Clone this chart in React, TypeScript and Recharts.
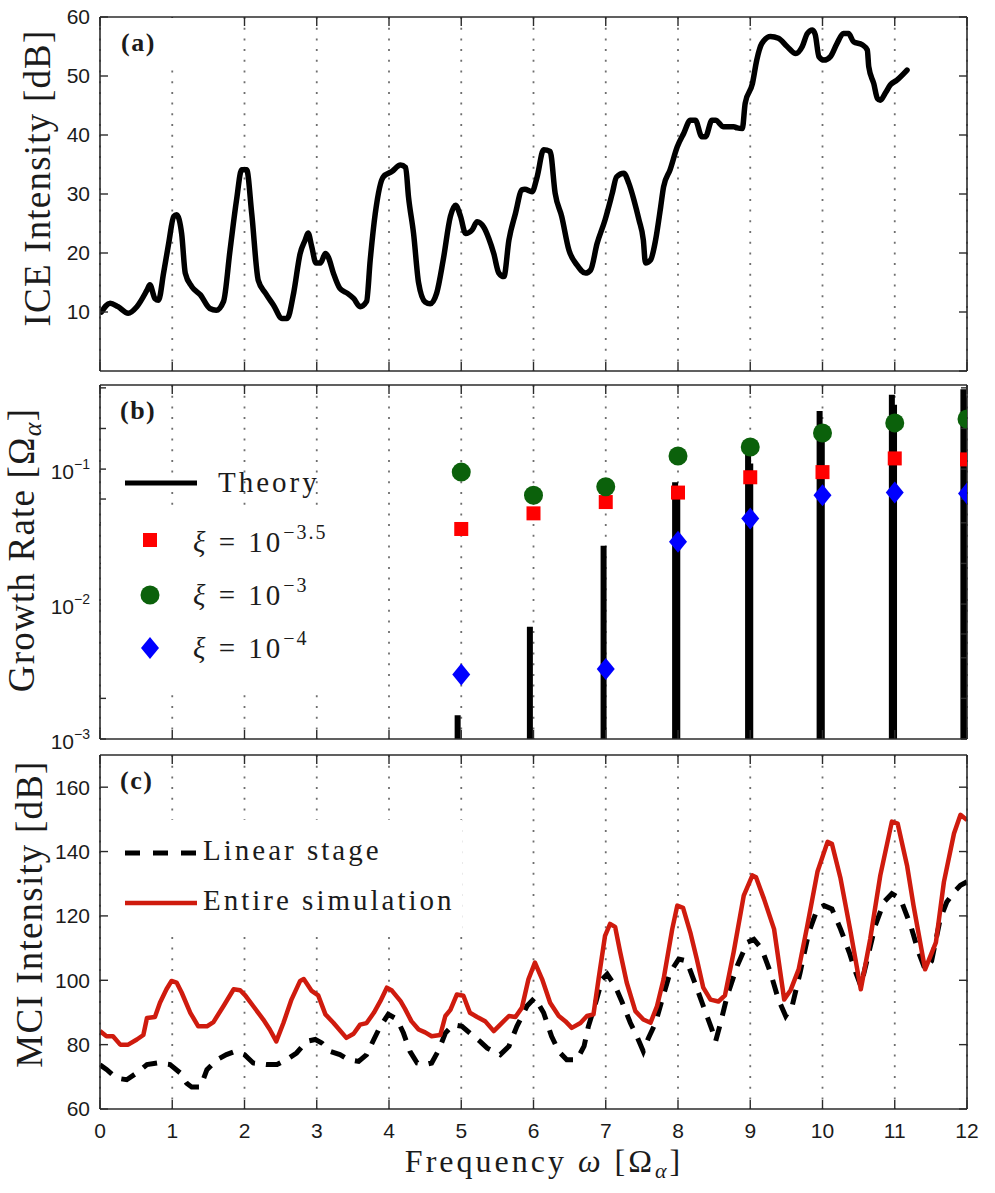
import React from 'react';
import { ComposedChart, Line, Scatter, XAxis, YAxis, CartesianGrid } from 'recharts';

// ---------- shared look ----------
const SERIF = '"Liberation Serif", "Times New Roman", serif';
const SANS = '"Liberation Sans", Arial, Helvetica, sans-serif';
const INK = '#1b1b1b';
const FRAME = '#2b2b2b';
const RED = '#cf1b0e';

// ---------- axes ----------
const freqTicks = [0, 1, 2, 3, 4, 5, 6, 7, 8, 9, 10, 11, 12];
const iceTicks = [0, 10, 20, 30, 40, 50, 60];
const rateTicks = [
  0.001, 0.002, 0.003, 0.004, 0.005, 0.006, 0.007, 0.008, 0.009,
  0.01, 0.02, 0.03, 0.04, 0.05, 0.06, 0.07, 0.08, 0.09,
  0.1, 0.2, 0.3, 0.4,
];
const mciTicks = [60, 80, 100, 120, 140, 160];

// ---------- (a) ICE spectrum ----------
const iceFreq = [
  0.02, 0.14, 0.25, 0.39, 0.51, 0.65, 0.69, 0.76, 0.81, 0.88, 0.95, 1.02, 1.06, 1.13, 1.18, 1.27,
  1.39, 1.52, 1.61, 1.71, 1.8, 1.89, 1.96, 2.03, 2.1, 2.19, 2.29, 2.4, 2.52, 2.59, 2.68, 2.77,
  2.84, 2.88, 2.93, 2.99, 3.05, 3.12, 3.16, 3.23, 3.32, 3.42, 3.51, 3.6, 3.69, 3.74, 3.81, 3.92,
  4.04, 4.16, 4.23, 4.27, 4.34, 4.41, 4.5, 4.57, 4.66, 4.75, 4.85, 4.92, 4.99, 5.06, 5.15, 5.22,
  5.31, 5.38, 5.45, 5.52, 5.59, 5.66, 5.75, 5.84, 5.88, 5.98, 6.05, 6.14, 6.23, 6.3, 6.39, 6.49,
  6.6, 6.72, 6.79, 6.88, 6.99, 7.09, 7.15, 7.25, 7.32, 7.39, 7.46, 7.52, 7.55, 7.62, 7.69, 7.76,
  7.8, 7.89, 7.99, 8.08, 8.17, 8.24, 8.33, 8.38, 8.47, 8.52, 8.63, 8.77, 8.82, 8.89, 8.93, 9.03,
  9.09, 9.16, 9.28, 9.39, 9.51, 9.63, 9.72, 9.79, 9.86, 9.9, 9.95, 10.02, 10.11, 10.2, 10.29, 10.36,
  10.43, 10.55, 10.62, 10.64, 10.71, 10.76, 10.8, 10.87, 10.94, 11.03, 11.17,
];
const iceDb = [
  10.0, 11.5, 10.9, 9.8, 10.9, 13.7, 14.6, 12.3, 12.0, 16.6, 21.6, 26.2, 26.5, 23.3, 16.6, 14.3,
  12.9, 10.6, 10.3, 11.8, 20.5, 29.0, 34.1, 34.1, 26.7, 15.4, 13.2, 11.2, 8.9, 8.9, 13.2, 19.9,
  22.2, 23.4, 21.1, 18.3, 18.3, 19.9, 19.3, 16.6, 14.0, 13.2, 12.3, 10.9, 11.8, 18.8, 26.7, 32.9,
  33.8, 34.9, 34.5, 29.5, 23.3, 14.9, 11.7, 11.4, 13.2, 18.8, 26.2, 28.1, 26.2, 23.3, 23.9, 25.3,
  24.4, 22.5, 19.9, 16.6, 16.0, 22.2, 26.7, 30.7, 30.8, 30.4, 32.9, 37.5, 37.2, 30.1, 26.2, 20.5,
  18.0, 16.6, 17.1, 21.6, 25.6, 30.1, 32.9, 33.5, 31.8, 29.0, 25.6, 22.2, 18.3, 18.8, 22.2, 27.8,
  31.2, 34.1, 38.0, 40.3, 42.5, 42.5, 39.7, 39.7, 42.5, 42.5, 41.4, 41.4, 41.2, 41.1, 45.4, 48.7,
  52.7, 55.5, 56.7, 56.4, 55.0, 53.8, 55.0, 57.2, 57.8, 57.0, 53.3, 52.7, 53.3, 55.5, 57.2, 57.2,
  55.8, 55.3, 54.4, 51.6, 48.7, 46.2, 45.9, 47.1, 48.5, 49.3, 51.0,
];

// ---------- (b) growth rates ----------
const theoryFreq = [4.95, 5.95, 6.97, 7.96, 7.99, 8.97, 9.0, 9.96, 9.99, 10.96, 10.99, 11.95, 11.98];
const theoryPeak = [0.0015, 0.0068, 0.027, 0.08, 0.07, 0.13, 0.11, 0.27, 0.2, 0.355, 0.3, 0.39, 0.34];
const theoryFloor = 0.001;

const harmonics = [5, 6, 7, 8, 9, 10, 11, 12];
const rateXi35 = [0.036, 0.047, 0.057, 0.067, 0.087, 0.095, 0.12, 0.118];
const rateXi3 = [0.095, 0.064, 0.074, 0.125, 0.146, 0.185, 0.22, 0.235];
const rateXi4 = [0.003, null, 0.0033, 0.029, 0.043, 0.064, 0.067, 0.066];

// ---------- (c) MCI spectra ----------
const entireFreq = [
  0, 0.09, 0.18, 0.28, 0.39, 0.51, 0.6, 0.65, 0.76, 0.83, 0.92, 0.99, 1.06, 1.13, 1.25, 1.36,
  1.48, 1.57, 1.71, 1.85, 1.94, 2.01, 2.12, 2.26, 2.35, 2.44, 2.54, 2.65, 2.77, 2.82, 2.93, 3.02,
  3.12, 3.23, 3.41, 3.51, 3.6, 3.69, 3.79, 3.88, 3.97, 4.04, 4.16, 4.22, 4.31, 4.41, 4.5, 4.59,
  4.71, 4.78, 4.85, 4.94, 5.03, 5.12, 5.22, 5.33, 5.45, 5.54, 5.66, 5.75, 5.84, 5.93, 6.02, 6.12,
  6.23, 6.35, 6.44, 6.53, 6.65, 6.74, 6.83, 6.9, 6.99, 7.06, 7.13, 7.2, 7.29, 7.41, 7.52, 7.62,
  7.71, 7.8, 7.92, 7.99, 8.07, 8.17, 8.26, 8.35, 8.45, 8.56, 8.65, 8.77, 8.91, 9.03, 9.08, 9.19,
  9.33, 9.47, 9.56, 9.67, 9.79, 9.93, 10.07, 10.13, 10.25, 10.39, 10.53, 10.66, 10.8, 10.96, 11.04, 11.17,
  11.26, 11.42, 11.57, 11.68, 11.82, 11.91, 12.0,
];
const entireDb = [
  84.2, 82.6, 82.6, 80.0, 80.0, 81.6, 83.0, 88.3, 88.6, 93.0, 97.2, 99.8, 99.3, 96.2, 89.9, 85.7,
  85.7, 87.0, 92.0, 97.2, 96.9, 95.3, 92.0, 87.8, 84.7, 81.0, 86.8, 94.0, 99.8, 100.4, 96.7, 95.3,
  89.4, 86.8, 82.1, 83.4, 86.2, 86.7, 89.9, 93.5, 97.7, 96.8, 93.5, 91.2, 87.3, 84.7, 83.8, 82.6,
  83.0, 88.9, 90.8, 95.6, 95.2, 89.9, 88.6, 87.3, 84.2, 86.2, 88.9, 88.6, 91.5, 100.3, 105.5, 100.3,
  93.0, 88.9, 87.3, 85.2, 86.7, 88.9, 89.4, 100.3, 113.8, 117.5, 116.6, 108.7, 99.3, 90.4, 87.8, 86.8,
  92.0, 100.3, 115.9, 123.2, 122.5, 114.9, 106.6, 97.7, 94.0, 93.4, 95.3, 108.7, 126.3, 132.6, 132.0, 125.3,
  115.9, 94.0, 97.0, 103.4, 117.0, 133.7, 143.0, 142.4, 131.6, 114.9, 97.2, 112.8, 132.6, 149.3, 148.7, 135.7,
  123.2, 103.4, 111.8, 130.5, 145.6, 151.4, 149.8,
];
const linearFreq = [
  0, 0.09, 0.23, 0.37, 0.51, 0.65, 0.79, 0.97, 1.11, 1.2, 1.27, 1.39, 1.48, 1.62, 1.75, 1.87,
  2.0, 2.12, 2.31, 2.45, 2.58, 2.72, 2.86, 2.98, 3.07, 3.19, 3.32, 3.44, 3.58, 3.69, 3.79, 3.88,
  3.99, 4.11, 4.2, 4.29, 4.39, 4.5, 4.59, 4.69, 4.78, 4.89, 5.01, 5.12, 5.26, 5.36, 5.54, 5.66,
  5.77, 5.91, 6.02, 6.14, 6.25, 6.35, 6.46, 6.6, 6.7, 6.76, 6.86, 6.95, 7.02, 7.13, 7.23, 7.34,
  7.43, 7.52, 7.59, 7.69, 7.78, 7.89, 8.01, 8.12, 8.24, 8.35, 8.47, 8.52, 8.59, 8.68, 8.82, 8.96,
  9.05, 9.16, 9.28, 9.39, 9.49, 9.58, 9.69, 9.81, 9.93, 10.02, 10.13, 10.25, 10.37, 10.46, 10.53, 10.62,
  10.73, 10.85, 10.96, 11.08, 11.22, 11.33, 11.42, 11.51, 11.63, 11.72, 11.82, 11.91, 12.0,
];
const linearDb = [
  73.7, 72.3, 69.6, 69.1, 71.2, 73.8, 74.3, 73.8, 71.2, 68.0, 66.8, 66.8, 72.2, 75.3, 76.9, 77.9,
  76.9, 74.3, 73.8, 73.8, 75.3, 77.4, 81.0, 81.6, 80.5, 77.9, 76.9, 75.3, 74.8, 76.9, 81.6, 85.7,
  89.4, 87.9, 83.6, 77.9, 74.3, 73.8, 74.3, 78.4, 83.6, 86.2, 85.7, 83.6, 81.0, 78.9, 76.9, 79.5,
  85.7, 92.0, 94.6, 89.9, 82.6, 77.9, 75.3, 75.3, 79.5, 85.7, 93.0, 100.3, 101.9, 98.2, 93.0, 86.8,
  82.6, 77.9, 82.0, 86.8, 94.0, 102.4, 106.6, 106.0, 98.8, 92.0, 84.7, 81.0, 86.8, 95.1, 104.5, 111.8,
  112.7, 109.7, 102.4, 94.0, 88.9, 92.0, 102.4, 114.9, 122.2, 123.2, 122.2, 115.9, 108.7, 102.4, 98.2, 106.6,
  117.0, 124.3, 126.9, 125.3, 117.0, 108.7, 103.4, 106.0, 119.1, 124.3, 127.4, 129.5, 130.6,
];

// ---------- tables for the library ----------
const zip = (xs: number[], ys: (number | null)[]) =>
  xs.map((x, i) => ({ x, y: ys[i] })).filter((d) => d.y !== null);

const iceData = zip(iceFreq, iceDb);
const entireData = zip(entireFreq, entireDb);
const linearData = zip(linearFreq, linearDb);
const xi35Data = zip(harmonics, rateXi35);
const xi3Data = zip(harmonics, rateXi3);
const xi4Data = zip(harmonics, rateXi4);

// each theory spike rises from the floor to its peak and back; nulls split spikes apart
const theoryData: { x: number; y: number | null }[] = [];
theoryFreq.forEach((f, i) => {
  theoryData.push({ x: f, y: theoryFloor });
  theoryData.push({ x: f, y: theoryPeak[i] });
  theoryData.push({ x: f, y: theoryFloor });
  theoryData.push({ x: f, y: null });
});

// ---------- layout ----------
const W = 995;
const Y_AXIS_W = 100;

const gridProps = {
  horizontal: false,
  vertical: true,
  stroke: '#6f6f6f',
  strokeWidth: 1.8,
  strokeDasharray: '2 8.7',
};

const frameLine = { stroke: FRAME, strokeWidth: 1.6 };
const tickLine = { stroke: FRAME, strokeWidth: 1.4 };
const tickFont = { fontFamily: SANS, fontSize: 21, fill: INK };
const NoLabel = () => <g />;

const isDecade = (v: number) => {
  const e = Math.log10(v);
  return Math.abs(e - Math.round(e)) < 1e-6;
};

const LogTick = (props: any) => {
  const { x, y, payload } = props;
  const v = payload?.value;
  if (typeof v !== 'number' || !isDecade(v)) return <g />;
  const e = Math.round(Math.log10(v));
  return (
    <text x={x} y={y + 10} textAnchor="end" fontFamily={SANS} fontSize={21} fill={INK}>
      10
      <tspan dy={-10} fontSize={14}>
        {'\u2212' + Math.abs(e)}
      </tspan>
    </text>
  );
};

const squareShape = (p: any) => (
  <rect x={p.cx - 7} y={p.cy - 7} width={14} height={14} fill="#ff0000" />
);
const circleShape = (p: any) => <circle cx={p.cx} cy={p.cy} r={9.5} fill="#0b610b" />;
const diamondShape = (p: any) => (
  <polygon
    points={`${p.cx},${p.cy - 11} ${p.cx + 9},${p.cy} ${p.cx},${p.cy + 11} ${p.cx - 9},${p.cy}`}
    fill="#0000ff"
  />
);

// bottom axis without labels (panels a, b)
function bareBottomAxis() {
  return (
    <XAxis
      dataKey="x"
      type="number"
      domain={[0, 12]}
      ticks={freqTicks}
      allowDataOverflow
      height={1}
      tick={NoLabel}
      tickSize={-9}
      axisLine={frameLine}
      tickLine={tickLine}
    />
  );
}

// mirrored frame axes (top and right) with inward ticks
function topAxis() {
  return (
    <XAxis
      xAxisId="top"
      orientation="top"
      dataKey="x"
      type="number"
      domain={[0, 12]}
      ticks={freqTicks}
      allowDataOverflow
      height={1}
      tick={NoLabel}
      tickSize={-9}
      axisLine={frameLine}
      tickLine={tickLine}
    />
  );
}

function rightAxis(domain: number[], ticks: number[], log: boolean, size: number) {
  return (
    <YAxis
      yAxisId="right"
      orientation="right"
      dataKey="y"
      type="number"
      scale={log ? 'log' : 'auto'}
      domain={domain}
      ticks={ticks}
      allowDataOverflow
      width={1}
      tick={NoLabel}
      tickSize={-size}
      axisLine={frameLine}
      tickLine={tickLine}
    />
  );
}

// invisible series that binds the mirrored axes so they are drawn
function frameBinder(data: { x: number; y: number | null }[]) {
  return (
    <Line
      xAxisId="top"
      yAxisId="right"
      data={data}
      dataKey="y"
      stroke="none"
      dot={false}
      activeDot={false}
      legendType="none"
      isAnimationActive={false}
    />
  );
}

function IcePanel() {
  return (
    <ComposedChart width={W} height={380} margin={{ top: 16, right: 27, bottom: 8, left: 0 }}>
      <CartesianGrid {...gridProps} />
      {bareBottomAxis()}
      {topAxis()}
      <YAxis
        dataKey="y"
        type="number"
        domain={[0, 60]}
        ticks={iceTicks}
        allowDataOverflow
        width={Y_AXIS_W}
        tickSize={-8}
        tickMargin={18}
        tick={tickFont}
        axisLine={frameLine}
        tickLine={tickLine}
      />
      {rightAxis([0, 60], iceTicks, false, 8)}
      {frameBinder(iceData)}
      <Line
        data={iceData}
        dataKey="y"
        type="monotone"
        stroke="#000"
        strokeWidth={5.5}
        strokeLinejoin="round"
        strokeLinecap="round"
        dot={false}
        activeDot={false}
        isAnimationActive={false}
      />
    </ComposedChart>
  );
}

function RatePanel() {
  return (
    <ComposedChart width={W} height={385} margin={{ top: 4, right: 27, bottom: 25, left: 0 }}>
      <CartesianGrid {...gridProps} />
      {bareBottomAxis()}
      {topAxis()}
      <YAxis
        dataKey="y"
        type="number"
        scale="log"
        domain={[0.001, 0.42]}
        ticks={rateTicks}
        allowDataOverflow
        width={Y_AXIS_W}
        tickSize={-6}
        tickMargin={16}
        tick={<LogTick />}
        axisLine={frameLine}
        tickLine={tickLine}
      />
      {rightAxis([0.001, 0.42], rateTicks, true, 6)}
      {frameBinder(xi35Data)}
      <Line
        data={theoryData}
        dataKey="y"
        type="linear"
        stroke="#000"
        strokeWidth={6}
        dot={false}
        activeDot={false}
        connectNulls={false}
        isAnimationActive={false}
      />
      <Scatter data={xi35Data} dataKey="y" shape={squareShape} isAnimationActive={false} />
      <Scatter data={xi3Data} dataKey="y" shape={circleShape} isAnimationActive={false} />
      <Scatter data={xi4Data} dataKey="y" shape={diamondShape} isAnimationActive={false} />
    </ComposedChart>
  );
}

function MciPanel() {
  return (
    <ComposedChart width={W} height={443} margin={{ top: 4, right: 27, bottom: 44, left: 0 }}>
      <CartesianGrid {...gridProps} />
      <XAxis
        dataKey="x"
        type="number"
        domain={[0, 12]}
        ticks={freqTicks}
        allowDataOverflow
        height={40}
        tick={tickFont}
        tickSize={-9}
        tickMargin={23}
        interval={0}
        axisLine={frameLine}
        tickLine={tickLine}
      />
      {topAxis()}
      <YAxis
        dataKey="y"
        type="number"
        domain={[60, 170]}
        ticks={mciTicks}
        allowDataOverflow
        width={Y_AXIS_W}
        tickSize={-8}
        tickMargin={18}
        tick={tickFont}
        axisLine={frameLine}
        tickLine={tickLine}
      />
      {rightAxis([60, 170], mciTicks, false, 8)}
      {frameBinder(linearData)}
      <Line
        data={linearData}
        dataKey="y"
        type="linear"
        stroke="#000"
        strokeWidth={5}
        strokeDasharray="15 11"
        dot={false}
        activeDot={false}
        isAnimationActive={false}
      />
      <Line
        data={entireData}
        dataKey="y"
        type="linear"
        stroke={RED}
        strokeWidth={4.5}
        strokeLinejoin="round"
        dot={false}
        activeDot={false}
        isAnimationActive={false}
      />
    </ComposedChart>
  );
}

// labels, panel tags and legends drawn over the three panels
function Annotations() {
  const legendText = { fontFamily: SERIF, fontSize: 29, fill: INK, letterSpacing: 3 } as const;
  const tagText = { fontFamily: SERIF, fontSize: 26, fontWeight: 700, fill: INK, letterSpacing: 1.5 } as const;
  const yTitle = { fontFamily: SERIF, fontSize: 37, fill: INK, letterSpacing: 1.2, textAnchor: 'middle' } as const;
  return (
    <svg
      width={W}
      height={1193}
      style={{ position: 'absolute', left: 0, top: 0, pointerEvents: 'none' }}
    >
      {/* y titles */}
      <text {...yTitle} transform="translate(50,178) rotate(-90)">
        ICE Intensity [dB]
      </text>
      <text {...yTitle} transform="translate(34,550) rotate(-90)">
        Growth Rate [Ω
        <tspan fontStyle="italic" fontSize={26} dy={7}>
          α
        </tspan>
        <tspan dy={-7}>]</tspan>
      </text>
      <text {...yTitle} transform="translate(42,914) rotate(-90)">
        MCI Intensity [dB]
      </text>

      {/* x title */}
      <text x={544} y={1172} textAnchor="middle" fontFamily={SERIF} fontSize={32} fill={INK} letterSpacing={3}>
        Frequency <tspan fontStyle="italic">ω</tspan> [Ω
        <tspan fontStyle="italic" fontSize={22} dy={6}>
          α
        </tspan>
        <tspan dy={-6}>]</tspan>
      </text>

      {/* (a) */}
      <rect x={101} y={18} width={76} height={50} fill="#fff" />
      <text x={121} y={51} {...tagText}>
        (a)
      </text>

      {/* (b) */}
      <text x={120} y={419} {...tagText}>
        (b)
      </text>
      <line x1={125} x2={197} y1={483} y2={483} stroke="#000" strokeWidth={5} />
      <text x={218} y={492} {...legendText}>
        Theory
      </text>
      <rect x={101} y={505} width={245} height={186} fill="#fff" />
      <rect x={143} y={533} width={14} height={14} fill="#ff0000" />
      <circle cx={150} cy={595} r={9.5} fill="#0b610b" />
      <polygon points="150,637 159,648 150,659 141,648" fill="#0000ff" />
      <text x={193} y={552} {...legendText}>
        <tspan fontStyle="italic">ξ</tspan> = 10
        <tspan dy={-13} fontSize={20} letterSpacing={2}>
          −3.5
        </tspan>
      </text>
      <text x={193} y={605} {...legendText}>
        <tspan fontStyle="italic">ξ</tspan> = 10
        <tspan dy={-13} fontSize={20} letterSpacing={2}>
          −3
        </tspan>
      </text>
      <text x={193} y={658} {...legendText}>
        <tspan fontStyle="italic">ξ</tspan> = 10
        <tspan dy={-13} fontSize={20} letterSpacing={2}>
          −4
        </tspan>
      </text>

      {/* (c) */}
      <text x={120} y={789} {...tagText}>
        (c)
      </text>
      <rect x={110} y={820} width={352} height={113} fill="#fff" />
      <line x1={125} x2={197} y1={853} y2={853} stroke="#000" strokeWidth={5} strokeDasharray="15 13" />
      <text x={203} y={860} {...legendText}>
        Linear stage
      </text>
      <line x1={125} x2={197} y1={903} y2={903} stroke={RED} strokeWidth={4.5} />
      <text x={203} y={910} {...legendText}>
        Entire simulation
      </text>
    </svg>
  );
}

export default function App() {
  return (
    <div style={{ position: 'absolute', left: 0, top: 0, width: W, height: 1193, background: '#fff' }}>
      <div style={{ position: 'absolute', left: 0, top: 0 }}>
        <IcePanel />
      </div>
      <div style={{ position: 'absolute', left: 0, top: 380 }}>
        <RatePanel />
      </div>
      <div style={{ position: 'absolute', left: 0, top: 750 }}>
        <MciPanel />
      </div>
      <Annotations />
    </div>
  );
}
